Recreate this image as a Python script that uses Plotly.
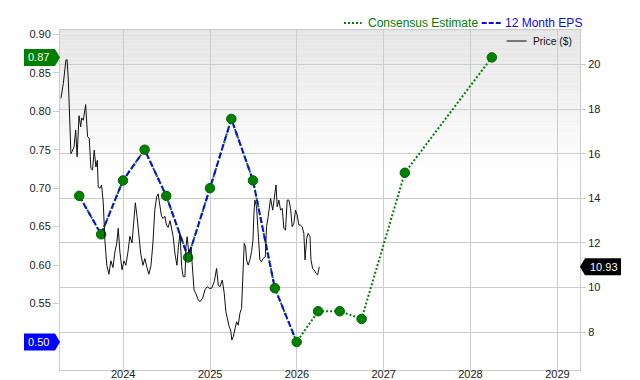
import pandas as pd
import plotly.graph_objects as go

# ---------------- data ----------------
eps_dates = ["2023-06-30", "2023-09-30", "2023-12-31", "2024-03-31", "2024-06-30",
             "2024-09-30", "2024-12-31", "2025-03-31", "2025-06-30", "2025-09-30",
             "2025-12-31"]
eps_values = [0.69, 0.64, 0.71, 0.75, 0.69, 0.61, 0.70, 0.79, 0.71, 0.57, 0.50]

est_dates = ["2025-12-31", "2026-03-31", "2026-06-30", "2026-09-30", "2027-03-31",
             "2028-03-31"]
est_values = [0.50, 0.54, 0.54, 0.53, 0.72, 0.87]

price_base_date = "2024-01-01"
price_day_offsets = [
    -262, -252, -241, -236, -231, -224, -220, -215, -207, -200,
    -194, -186, -179, -175, -168, -158, -150, -143, -136, -129,
    -122, -115, -109, -105, -98, -91, -84, -77,
    -69, -60, -52, -43, -35, -27, -21, -14, -5, 3,
    11, 20, 28, 37, 45, 51, 58, 66, 74, 83,
    91, 100, 108, 117, 125, 133, 141, 147, 154, 161,
    168, 175, 182, 189, 197, 203, 210, 218, 226, 232, 239,
    246, 252, 260, 264, 269, 276, 285, 292, 298, 305,
    316, 323, 334, 344, 353, 362, 372, 383, 393, 400,
    407, 417, 425, 432, 439, 446, 452, 457, 463, 470,
    477, 484, 491, 498, 502, 505, 509, 515, 519, 526,
    533, 540, 546, 550, 554, 561, 568, 575, 582, 589,
    598, 603, 610, 620, 629, 635, 643, 648, 655, 662,
    669, 676, 683, 690, 697, 704, 711, 718, 725, 732,
    739, 746, 753, 760, 765, 772, 778, 786, 790, 797,
    804, 811, 818, 825]
price_values = [
    18.48, 19.15, 20.2, 20.2, 19.3, 16.6, 16.0, 16.1, 16.3, 17.06,
    15.86, 17.7, 17.2, 17.6, 17.5, 18.2, 16.76, 16.7, 15.34, 15.27,
    16.16, 15.4, 15.7, 14.5, 14.45, 14.6, 13.8, 12.1,
    11.0, 10.6, 11.2, 10.9, 11.6, 12.0, 12.66, 11.6, 10.8, 11.2,
    11.0, 11.6, 12.3, 12.0, 13.0, 13.8, 13.2, 12.2, 11.5, 11.0,
    11.3, 10.9, 10.6, 11.0, 12.0, 13.5, 14.07, 14.2, 13.6, 13.2,
    13.1, 13.2, 12.8, 12.7, 13.0, 12.6, 12.3, 11.5, 11.0, 11.8, 12.43,
    10.94, 10.49, 10.49, 11.83, 12.28, 11.54, 11.83, 10.79, 9.9, 9.75,
    9.44, 9.37, 9.52, 9.9, 10.04, 9.97, 9.97, 10.27, 10.86, 10.12,
    10.04, 10.34, 9.75, 8.92, 8.55, 8.25, 8.1, 7.65, 7.8, 8.1,
    8.47, 8.32, 8.85, 9.07, 10.04, 11.54, 11.98, 11.83, 11.24, 11.01,
    11.24, 11.61, 12.13, 13.33, 13.92, 13.62, 12.58, 11.24, 11.16, 11.31,
    11.39, 12.73, 13.18, 14.0, 13.47, 13.92, 14.6, 13.62, 13.92, 13.47,
    13.55, 12.65, 12.58, 13.92, 13.92, 13.55, 12.73, 12.88, 13.47, 13.25,
    12.80, 12.80, 12.73, 12.43, 11.24, 12.2, 12.43, 12.28, 11.24, 10.86,
    10.79, 10.64, 10.57, 10.93]

left_tick_values = [0.50, 0.55, 0.60, 0.65, 0.70, 0.75, 0.80, 0.85, 0.90]
right_tick_values = [8, 10, 12, 14, 16, 18, 20]
year_ticks = ["2024-01-01", "2025-01-01", "2026-01-01", "2027-01-01", "2028-01-01", "2029-01-01"]
year_labels = ["2024", "2025", "2026", "2027", "2028", "2029"]

x_range = ["2023-04-10", "2029-04-06"]
left_range = [0.4636, 0.9056]
right_range = [6.31, 21.54]

last_price = price_values[-1]
high_eps = max(est_values)
low_eps = min(eps_values)

# ---------------- build ----------------
price_dates = pd.Timestamp(price_base_date) + pd.to_timedelta(price_day_offsets, unit="D")
all_dates = eps_dates + est_dates[1:]
all_values = eps_values + est_values[1:]

GREEN = "#008000"
BLUE = "#0a0af0"
FONT = "Liberation Sans, Arial, sans-serif"

fig = go.Figure()

fig.add_trace(go.Scatter(x=price_dates, y=price_values, yaxis="y2", mode="lines",
                         line=dict(color="#111111", width=1), showlegend=False,
                         hoverinfo="skip"))
fig.add_trace(go.Scatter(x=all_dates, y=all_values, mode="lines",
                         line=dict(color=GREEN, width=2, dash="2px,2px"),
                         showlegend=False))
fig.add_trace(go.Scatter(x=eps_dates, y=eps_values, mode="lines",
                         line=dict(color=BLUE, width=2, dash="6px,3px"),
                         showlegend=False))
fig.add_trace(go.Scatter(x=all_dates, y=all_values, mode="markers",
                         marker=dict(color=GREEN, size=9.5,
                                     line=dict(color="#006600", width=1)),
                         showlegend=False))

# gradient background bands
shapes = []
n_bands = 40
grad_end = 0.42
for i in range(n_bands):
    y1 = 1 - i * grad_end / n_bands
    y0 = 1 - (i + 1) * grad_end / n_bands
    t = i / (n_bands - 1)
    c = int(229 + (255 - 229) * t)
    shapes.append(dict(type="rect", xref="paper", yref="paper", x0=0, x1=1,
                       y0=y0, y1=y1, fillcolor=f"rgb({c},{c},{c})",
                       line=dict(width=0), layer="below"))

# value tags
tag_left = "M -36,-8.5 L -5,-8.5 L 0,0 L -5,8.5 L -36,8.5 Z"
shapes.append(dict(type="path", xref="paper", yref="y", xsizemode="pixel",
                   ysizemode="pixel", xanchor=0, yanchor=high_eps, path=tag_left,
                   fillcolor=GREEN, line=dict(width=0)))
shapes.append(dict(type="path", xref="paper", yref="y", xsizemode="pixel",
                   ysizemode="pixel", xanchor=0, yanchor=low_eps, path=tag_left,
                   fillcolor="#0000ff", line=dict(width=0)))
shapes.append(dict(type="path", xref="paper", yref="y2", xsizemode="pixel",
                   ysizemode="pixel", xanchor=1, yanchor=last_price,
                   path="M 0,0 L 5,8.5 L 41,8.5 L 41,-8.5 L 5,-8.5 Z",
                   fillcolor="#000000", line=dict(width=0)))

# legend line samples
shapes.append(dict(type="line", xref="paper", yref="paper", x0=0.5462, x1=0.5802,
                   y0=1.0206, y1=1.0206, line=dict(color=GREEN, width=2, dash="2px,2px")))
shapes.append(dict(type="line", xref="paper", yref="paper", x0=0.8110, x1=0.8481,
                   y0=1.0206, y1=1.0206, line=dict(color=BLUE, width=2, dash="5px,2px")))
shapes.append(dict(type="line", xref="paper", yref="paper", x0=0.8590, x1=0.8975,
                   y0=0.9676, y1=0.9676, line=dict(color="#777777", width=2)))

annotations = [
    dict(text="Consensus Estimate", xref="paper", yref="paper", x=0.5890, y=1.0206,
         xanchor="left", yanchor="middle", showarrow=False,
         font=dict(family=FONT, size=12, color=GREEN)),
    dict(text="12 Month EPS", xref="paper", yref="paper", x=0.8520, y=1.0206,
         xanchor="left", yanchor="middle", showarrow=False,
         font=dict(family=FONT, size=12, color=BLUE)),
    dict(text="Price ($)", xref="paper", yref="paper", x=0.9060, y=0.9676,
         xanchor="left", yanchor="middle", showarrow=False,
         font=dict(family=FONT, size=10.3, color="#111111")),
    dict(text=f"{high_eps:.2f}", xref="paper", yref="y", x=-0.066, y=high_eps,
         xanchor="left", yanchor="middle", showarrow=False,
         font=dict(family=FONT, size=11, color="white")),
    dict(text=f"{low_eps:.2f}", xref="paper", yref="y", x=-0.066, y=low_eps,
         xanchor="left", yanchor="middle", showarrow=False,
         font=dict(family=FONT, size=11, color="white")),
    dict(text=f"{last_price:.2f}", xref="paper", yref="y2", x=1.0155, y=last_price,
         xanchor="left", yanchor="middle", showarrow=False,
         font=dict(family=FONT, size=11, color="white")),
]

GRID = "#cccccc"
fig.update_layout(
    width=640, height=380,
    margin=dict(l=60, r=60, t=30, b=10),
    paper_bgcolor="white", plot_bgcolor="white",
    font=dict(family=FONT, size=11, color="#222222"),
    showlegend=False,
    shapes=shapes, annotations=annotations,
    xaxis=dict(type="date", range=x_range, tickvals=year_ticks, ticktext=year_labels,
               showgrid=True, gridcolor=GRID, gridwidth=1, ticks="",
               showline=True, linecolor=GRID, mirror=True, zeroline=False,
               automargin=False, tickfont=dict(size=11), ticklabelstandoff=-6),
    yaxis=dict(range=left_range, tickvals=left_tick_values,
               ticktext=[f"{v:.2f}" for v in left_tick_values],
               showgrid=False, ticks="outside", ticklen=6, tickcolor=GRID,
               showline=True, linecolor=GRID, zeroline=False, automargin=False,
               tickfont=dict(size=11)),
    yaxis2=dict(range=right_range, tickvals=right_tick_values, overlaying="y",
                side="right", showgrid=True, gridcolor=GRID, gridwidth=1,
                ticks="outside", ticklen=5, tickcolor=GRID,
                showline=True, linecolor=GRID, zeroline=False, automargin=False,
                tickfont=dict(size=11)),
)

fig.write_html("out.html")
